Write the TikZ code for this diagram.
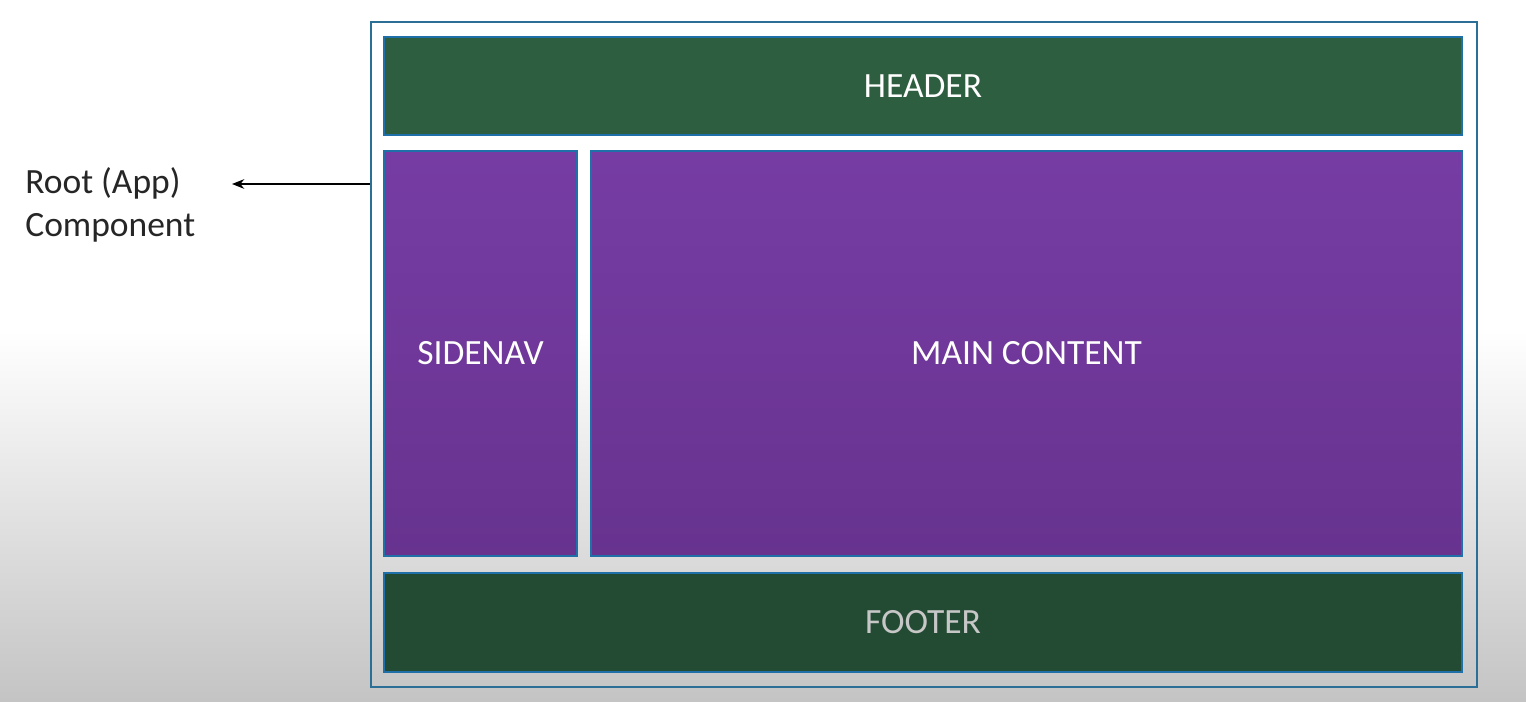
\documentclass[tikz,border=0pt]{standalone}
\usepackage{fontspec}
\setmainfont{Carlito}
\usetikzlibrary{arrows.meta}
\definecolor{framecol}{HTML}{2B6E96}
\definecolor{edgecol}{HTML}{1F70A8}
\definecolor{headgreen}{HTML}{2D5E3F}
\definecolor{footgreen}{HTML}{234B34}
\definecolor{purptop}{HTML}{763CA4}
\definecolor{purpbot}{HTML}{67338F}
\definecolor{bggray}{HTML}{C4C4C4}
\begin{document}
\begin{tikzpicture}[
    >={Stealth[length=7pt,width=5.5pt]},
    part/.style={draw=edgecol, line width=1.4pt, inner sep=0pt, font=\fontsize{20.2}{24}\selectfont},
    greenpart/.style={part, fill=headgreen, text=white},
    purplepart/.style={part, top color=purptop, bottom color=purpbot, text=white}
  ]
  % background
  \fill[white] (0,0) rectangle (30.52,14.02);
  \shade[top color=white, bottom color=bggray] (0,0) rectangle (30.52,7.42);
  \useasboundingbox (0,0) rectangle (30.52,14.02);

  \node [draw=framecol, line width=1.4pt, minimum width=22.12cm, minimum height=13.30cm] (frame) at (18.48,6.93) {};
  \node [greenpart, minimum width=21.56cm, minimum height=1.96cm] (header) at (18.46,12.30) {HEADER};
  \node [purplepart, minimum width=3.86cm, minimum height=8.10cm] (sidenav) at (9.61,6.95) {SIDENAV};
  \node [purplepart, minimum width=17.42cm, minimum height=8.10cm] (main) at (20.53,6.95) {MAIN CONTENT};
  \node [greenpart, fill=footgreen, text=black!10!gray!40!white, minimum width=21.56cm, minimum height=1.98cm] (footer) at (18.46,1.57) {FOOTER};

  \node [anchor=west, align=left, inner sep=0pt, text=black!85, font=\fontsize{20.2}{24.5}\selectfont] (root) at (0.50,9.92) {Root (App)\\Component};
  \coordinate (tip) at (4.64,10.34);
  \draw[->, line width=0.8pt] (frame.west |- tip) -- (tip);
\end{tikzpicture}
\end{document}
